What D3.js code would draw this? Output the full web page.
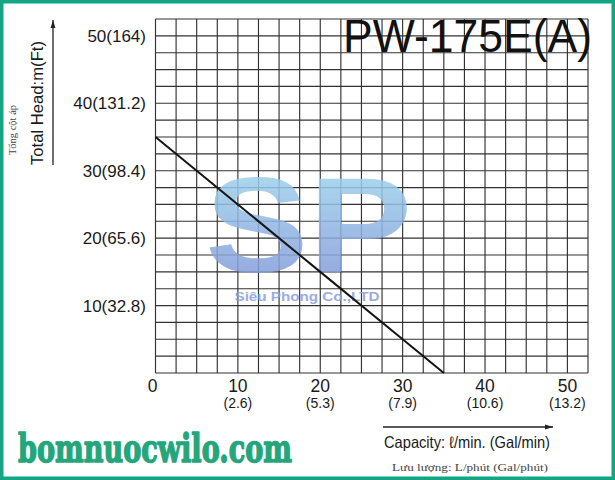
<!DOCTYPE html>
<html><head><meta charset="utf-8">
<script src="https://cdn.jsdelivr.net/npm/d3@7/dist/d3.min.js"></script>
<style>html,body{margin:0;padding:0;background:#fff;}svg{display:block;}</style>
</head><body>
<svg id="c" width="615" height="480"></svg>
<script>
// ---- data ----
const title = "PW-175E(A)";
const flowTicks = [0, 10, 20, 30, 40, 50];
const flowGalLabels = ["", "(2.6)", "(5.3)", "(7.9)", "(10.6)", "(13.2)"];
const headTicks = [10, 20, 30, 40, 50];
const headFtLabels = ["(32.8)", "(65.6)", "(98.4)", "(131.2)", "(164)"];
const curveFlow = [0, 10, 20, 30, 35];
const curveHead = [35, 25, 15, 5, 0];
const gridStep = 2.5;
const axisMax = 52.5;

const svg = d3.select("#c");
const x = d3.scaleLinear().domain([0, axisMax]).range([155.5, 588]);
const y = d3.scaleLinear().domain([0, axisMax]).range([373, 19]);
const sans = "Liberation Sans, Arial, sans-serif";

// border
svg.append("rect").attr("x", 1.5).attr("y", 1.5).attr("width", 612).attr("height", 477)
  .attr("fill", "#fff").attr("stroke", "#13a584").attr("stroke-width", 4);

const defs = svg.append("defs");
const g = defs.append("linearGradient").attr("id", "wm").attr("x1", 0).attr("y1", 0).attr("x2", 0).attr("y2", 1);
g.append("stop").attr("offset", "0%").attr("stop-color", "#a2def0");
g.append("stop").attr("offset", "100%").attr("stop-color", "#7f8fd6");
defs.append("marker").attr("id", "ah").attr("viewBox", "0 0 10 10").attr("refX", 10).attr("refY", 5)
  .attr("markerWidth", 20).attr("markerHeight", 8).attr("markerUnits", "userSpaceOnUse").attr("orient", "auto")
  .append("path").attr("d", "M0,2 L10,5 L0,8 Z").attr("fill", "#222");

// grid
const steps = d3.range(0, axisMax + 0.001, gridStep);
const grid = svg.append("g").attr("stroke", "#333").attr("stroke-width", 1.15);
grid.selectAll(".v").data(steps).join("line")
  .attr("x1", d => x(d)).attr("x2", d => x(d)).attr("y1", y(0)).attr("y2", y(axisMax));
grid.selectAll(".h").data(steps).join("line")
  .attr("y1", d => y(d)).attr("y2", d => y(d)).attr("x1", x(0)).attr("x2", x(axisMax));

// watermark
svg.append("text").attr("x", 205).attr("y", 272).attr("textLength", 207).attr("lengthAdjust", "spacingAndGlyphs")
  .attr("font-family", sans).attr("font-weight", "bold").attr("font-size", 135)
  .attr("fill", "url(#wm)").attr("opacity", 0.85).text("SP");
svg.append("text").attr("x", 307).attr("y", 301).attr("text-anchor", "middle").attr("textLength", 145)
  .attr("lengthAdjust", "spacingAndGlyphs")
  .attr("font-family", sans).attr("font-weight", "bold").attr("font-size", 12.5)
  .attr("fill", "#8a9de0").attr("opacity", 0.85).text("Siêu Phong Co.,LTD");

// curve
const pts = curveFlow.map((f, i) => [f, curveHead[i]]);
svg.append("path").datum(pts).attr("fill", "none").attr("stroke", "#151515").attr("stroke-width", 2)
  .attr("d", d3.line().x(d => x(d[0])).y(d => y(d[1])));

// title
svg.append("text").attr("x", 343).attr("y", 52).attr("textLength", 249).attr("lengthAdjust", "spacingAndGlyphs")
  .attr("font-family", sans).attr("font-size", 47).attr("fill", "#111").text(title);

// y tick labels
svg.append("g").selectAll("text").data(headTicks).join("text")
  .attr("x", 146).attr("y", d => y(d) + 6).attr("text-anchor", "end")
  .attr("font-family", sans).attr("font-size", 17).attr("fill", "#1a1a1a")
  .text((d, i) => d + headFtLabels[i]);

// x tick labels
const xl = svg.append("g").selectAll("g").data(flowTicks).join("g");
xl.append("text").attr("x", d => x(d) - (d === 0 ? 3 : 0)).attr("y", 392).attr("text-anchor", "middle")
  .attr("font-family", sans).attr("font-size", 17.5).attr("fill", "#1a1a1a").text(d => d);
xl.append("text").attr("x", d => x(d)).attr("y", 408).attr("text-anchor", "middle")
  .attr("font-family", sans).attr("font-size", 14).attr("fill", "#1a1a1a").text((d, i) => flowGalLabels[i]);

// y axis title
svg.append("line").attr("x1", 53).attr("x2", 53).attr("y1", 165).attr("y2", 20)
  .attr("stroke", "#222").attr("stroke-width", 1.3).attr("marker-end", "url(#ah)");
svg.append("text").attr("transform", "translate(43,103) rotate(-90)").attr("text-anchor", "middle")
  .attr("textLength", 124).attr("lengthAdjust", "spacingAndGlyphs")
  .attr("font-family", sans).attr("font-size", 17).attr("fill", "#1a1a1a").text("Total Head:m(Ft)");
svg.append("text").attr("transform", "translate(16,130) rotate(-90)").attr("text-anchor", "middle")
  .attr("font-family", "Liberation Serif, serif").attr("font-size", 10.5).attr("fill", "#444").text("Tổng cột áp");

// x axis title
svg.append("line").attr("x1", 383).attr("x2", 553).attr("y1", 427).attr("y2", 427)
  .attr("stroke", "#222").attr("stroke-width", 1.3).attr("marker-end", "url(#ah)");
svg.append("text").attr("x", 384).attr("y", 448).attr("textLength", 166).attr("lengthAdjust", "spacingAndGlyphs")
  .attr("font-family", sans).attr("font-size", 16.5).attr("fill", "#1a1a1a")
  .text("Capacity: ℓ/min. (Gal/min)");
svg.append("text").attr("x", 392).attr("y", 471).attr("textLength", 156).attr("lengthAdjust", "spacingAndGlyphs")
  .attr("font-family", "Liberation Serif, serif").attr("font-size", 10.5).attr("fill", "#444").text("Lưu lượng: L/phút (Gal/phút)");

// site text
svg.append("text").attr("x", 18).attr("y", 462).attr("textLength", 274).attr("lengthAdjust", "spacingAndGlyphs")
  .attr("font-family", "DejaVu Serif, serif").attr("font-weight", "bold").attr("font-size", 40)
  .attr("fill", "#24a67a").attr("stroke", "#24a67a").attr("stroke-width", 1.6).attr("stroke-linejoin", "round")
  .text("bomnuocwilo.com");
</script>
</body></html>
